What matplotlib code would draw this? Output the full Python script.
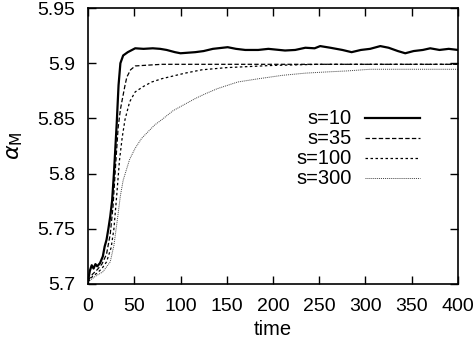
import matplotlib
matplotlib.use("Agg")
import matplotlib.pyplot as plt

plt.rcParams['font.family'] = ['Liberation Sans', 'DejaVu Sans']
plt.rcParams['mathtext.fontset'] = 'dejavusans'

# s=10 (solid)
t10 = [0, 2, 4, 6, 8, 10, 13, 16, 18, 20, 22, 24, 26, 28, 29, 31, 33, 35, 38, 43, 51,
       60, 70, 78, 85, 94, 100, 108, 116, 125, 135, 151, 160, 170, 184, 195, 213, 224,
       235, 245, 251, 262, 275, 285, 295, 305, 316, 325, 335, 343, 352, 362, 370, 380,
       390, 400]
a10 = [5.703, 5.712, 5.717, 5.714, 5.718, 5.716, 5.719, 5.725, 5.734, 5.740, 5.750, 5.761,
       5.775, 5.800, 5.815, 5.845, 5.880, 5.900, 5.907, 5.910, 5.9135,
       5.913, 5.9135, 5.913, 5.912, 5.910, 5.909, 5.9095, 5.910, 5.911, 5.913, 5.9145, 5.913,
       5.912, 5.912, 5.913, 5.9115, 5.912, 5.914, 5.9135, 5.9155, 5.914, 5.912, 5.910,
       5.912, 5.913, 5.9155, 5.914, 5.911, 5.909, 5.911, 5.912, 5.9135, 5.912, 5.913, 5.912]

# s=35 (dashed)
t35 = [0, 5, 10, 15, 20, 24, 27, 30, 32.6, 35, 37, 40, 42, 46, 51, 60, 80, 100, 150, 400]
a35 = [5.703, 5.709, 5.713, 5.718, 5.727, 5.745, 5.770, 5.810, 5.842, 5.858, 5.867, 5.880,
       5.8875, 5.894, 5.8975, 5.898, 5.899, 5.899, 5.899, 5.899]

# s=100 (dotted)
t100 = [0, 5, 10, 15, 20, 25, 28, 31, 34, 37, 40, 45, 51, 60, 69, 80, 90, 105, 123, 150,
        200, 250, 300, 400]
a100 = [5.702, 5.707, 5.710, 5.714, 5.720, 5.733, 5.750, 5.780, 5.812, 5.833, 5.849, 5.865,
        5.874, 5.879, 5.883, 5.886, 5.888, 5.891, 5.894, 5.896, 5.898, 5.899, 5.899, 5.899]

# s=300 (fine dotted)
t300 = [0, 8, 16, 24, 28, 32, 35, 38, 45, 51, 58, 65, 72, 80, 92, 105, 116, 126, 140,
        162, 185, 210, 235, 256, 280, 305, 340, 400]
a300 = [5.702, 5.707, 5.711, 5.720, 5.735, 5.760, 5.780, 5.794, 5.813, 5.823, 5.832, 5.838,
        5.844, 5.849, 5.857, 5.863, 5.868, 5.872, 5.877, 5.883, 5.886, 5.889, 5.891, 5.892,
        5.893, 5.8945, 5.8945, 5.8945]

labels = ["s=10", "s=35", "s=100", "s=300"]
xticks = [0, 50, 100, 150, 200, 250, 300, 350, 400]
yticks = [5.7, 5.75, 5.8, 5.85, 5.9, 5.95]
ytick_labels = ["5.7", "5.75", "5.8", "5.85", "5.9", "5.95"]

fig = plt.figure(figsize=(4.74, 3.42), dpi=100)
ax = fig.add_axes([0.1857, 0.1696, 0.7805, 0.807])

styles = [
    dict(color='black', lw=1.6, ls='-'),
    dict(color='black', lw=0.9, ls=(0, (3.5, 1.8))),
    dict(color='black', lw=0.9, ls=(0, (2, 2))),
    dict(color='#444444', lw=0.7, ls=(0, (1, 1))),
]
series = [(t10, a10), (t35, a35), (t100, a100), (t300, a300)]

# draw s=300 first so the thicker lines sit on top
for (t, a), st in reversed(list(zip(series, styles))):
    ax.plot(t, a, **st)

# gnuplot-style key: right-aligned text, sample line on the right
y0 = 0.60
dy = 0.072
for i, (lab, st) in enumerate(zip(labels, styles)):
    y = y0 - i * dy
    ax.text(0.713, y, lab, transform=ax.transAxes, ha='right', va='center', fontsize=14.5)
    ax.plot([0.749, 0.897], [y, y], transform=ax.transAxes, **st)

ax.set_xlim(0, 400)
ax.set_ylim(5.7, 5.95)
ax.set_xticks(xticks)
ax.set_yticks(yticks)
ax.set_yticklabels(ytick_labels)
ax.tick_params(direction='in', length=6, width=1, top=True, right=True,
               labelsize=14)
ax.tick_params(axis='y', pad=9)
ax.tick_params(axis='x', pad=10)
for sp in ax.spines.values():
    sp.set_linewidth(1.2)

ax.set_xlabel("time", fontsize=14.5, labelpad=4)
ax.set_ylabel(r"$\alpha_{\rm M}$", fontsize=16, labelpad=9)

fig.savefig("out.png", dpi=100)
